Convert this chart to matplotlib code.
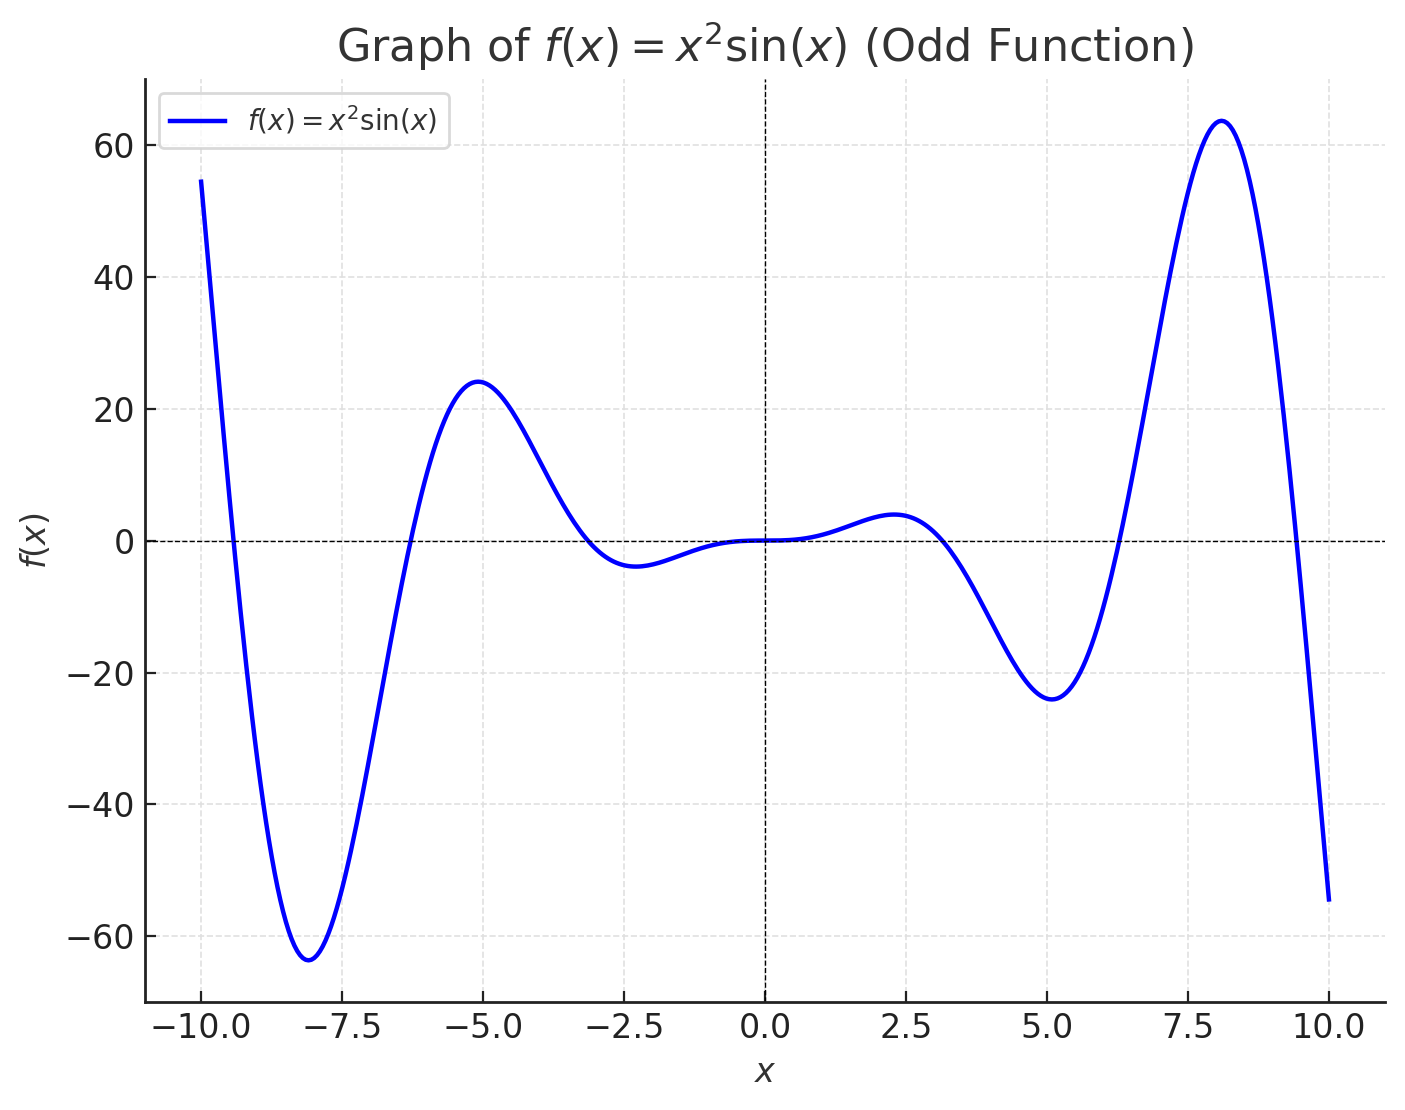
import matplotlib
import numpy as np

matplotlib.use("Agg")
import matplotlib.pyplot as plt

# ── curve definition (the plotted function, as named in the title) ────────────
X_MIN = -10.0
X_MAX = 10.0
N_POINTS = 400
x = np.linspace(X_MIN, X_MAX, N_POINTS)
y = x**2 * np.sin(x)

X_TICKS = [-10.0, -7.5, -5.0, -2.5, 0.0, 2.5, 5.0, 7.5, 10.0]
Y_TICKS = [-60, -40, -20, 0, 20, 40, 60]

TEXT = "#333333"

plt.rcParams.update(
    {
        "font.family": "DejaVu Sans",
        "axes.edgecolor": "#222222",
        "xtick.color": "#222222",
        "ytick.color": "#222222",
    }
)

fig, ax = plt.subplots(figsize=(7.025, 5.55), dpi=200)
fig.subplots_adjust(left=0.103, right=0.986, top=0.929, bottom=0.097)

ax.plot(x, y, color="blue", lw=1.6, label=r"$f(x) = x^2 \sin(x)$")
ax.axhline(0, color="black", lw=0.5, ls="--")
ax.axvline(0, color="black", lw=0.5, ls="--")

ax.set_xticks(X_TICKS)
ax.set_yticks(Y_TICKS)
ax.set_ylim(-70, 70)
ax.tick_params(direction="in", labelsize=12, length=4, width=0.8)

ax.set_title(r"Graph of $f(x) = x^2 \sin(x)$ (Odd Function)", fontsize=16, color=TEXT)
ax.set_xlabel(r"$x$", fontsize=12, color=TEXT)
ax.set_ylabel(r"$f(x)$", fontsize=12, color=TEXT)

ax.spines["top"].set_visible(False)
ax.spines["right"].set_visible(False)
ax.spines["left"].set_linewidth(1.0)
ax.spines["bottom"].set_linewidth(1.0)
ax.grid(True, ls="--", color="#e0e0e0", lw=0.6)

leg = ax.legend(loc="upper left", fontsize=10, labelcolor=TEXT)
leg.get_frame().set_edgecolor("#d0d0d0")

fig.savefig("out.png", dpi=200)
